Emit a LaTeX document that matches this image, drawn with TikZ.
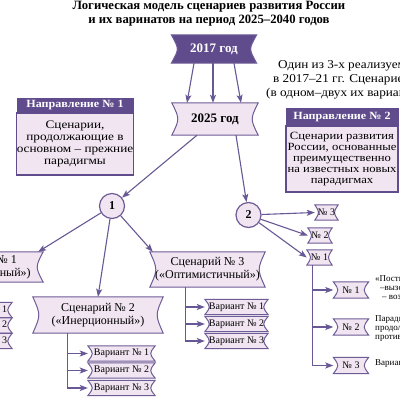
\documentclass[tikz,border=0pt]{standalone}
\usepackage{fontspec}
\setmainfont{Liberation Serif}
\newfontfamily\wf[FakeStretch=1.15]{Liberation Serif}
\newfontfamily\wg[FakeStretch=1.1]{Liberation Serif}
\usetikzlibrary{arrows.meta}
\pgfdeclarelayer{bg}\pgfsetlayers{bg,main}
\definecolor{dk}{RGB}{96,76,140}
\definecolor{lc}{RGB}{104,88,150}
\definecolor{lt}{RGB}{241,229,242}
\definecolor{bd}{RGB}{110,92,150}
\newcommand\outl[3][fill=lt,draw=bd]{\begin{pgfonlayer}{bg}\path[line width=1pt,#1] (#2.north west) -- (#2.north east) .. controls ([xshift=-#3]#2.east) .. (#2.south east) -- (#2.south west) .. controls ([xshift=#3]#2.west) .. (#2.north west) -- cycle;\end{pgfonlayer}}
\begin{document}
\begin{tikzpicture}[x=1pt,y=-1pt,
 arr/.style={draw=lc,line width=1.1pt,-{Stealth[length=8pt,width=6pt,inset=1.8pt]}},
 sc/.style={rectangle,inner sep=0pt,align=center,font=\fontsize{12}{13}\selectfont},
 var/.style={rectangle,inner sep=0pt,minimum height=15pt,align=center,font=\fontsize{10}{11}\selectfont},
 circ/.style={circle,inner sep=0pt,minimum size=25pt,fill=lt,draw=bd,line width=1.2pt,font=\bfseries\fontsize{12}{12}\selectfont},
 hdr/.style={rectangle,inner sep=0pt,fill=dk,draw=dk,line width=1pt,text=white,font=\wg\bfseries\fontsize{11}{11}\selectfont},
 bdy/.style={rectangle,inner sep=0pt,fill=lt,draw=dk,line width=1.2pt,align=center},
 txt/.style={inner sep=0pt,anchor=west,align=left,font=\wg\fontsize{12}{12}\selectfont},
 sm/.style={inner sep=0pt,anchor=west,align=left,font=\fontsize{9}{9}\selectfont},
 ttl/.style={inner sep=0pt,font=\bfseries\fontsize{12.7}{13}\selectfont}
]
\begin{pgfonlayer}{bg}\fill[white] (0,0) rectangle (400,400);\end{pgfonlayer}
\useasboundingbox (0,0) rectangle (400,400);
\clip (0,0) rectangle (400,400);
% title
\node[ttl] (t1) at (209,7) {Логическая модель сценариев развития России};
\node[ttl] (t2) at (209,21) {и их варинатов на период 2025–2040 годов};
% years
\node[sc,minimum width=85pt,minimum height=28pt,text=white,font=\bfseries\fontsize{13}{13}\selectfont] (y17) at (214,49) {2017 год};
\outl[fill=dk,draw=bd]{y17}{8pt}
\node[sc,minimum width=86pt,minimum height=32pt,font=\bfseries\fontsize{13}{13}\selectfont] (y25) at (215,119) {2025 год};
\outl{y25}{8pt}
% directions
\node[bdy,minimum width=116pt,minimum height=62pt,font=\wf\fontsize{11.5}{12}\selectfont] (d1b) at (75,144) {Сценарии,\\продолжающие в\\основном – прежние\\парадигмы};
\node[hdr,minimum width=116pt,minimum height=15pt] (d1h) at (75,105.5) {Направление № 1};
\node[bdy,minimum width=112pt,minimum height=66pt,font=\wf\fontsize{11}{10.8}\selectfont] (d2b) at (342,159) {Сценарии развития\\России, основанные\\преимущественно\\на известных новых\\парадигмах};
\node[hdr,minimum width=112pt,minimum height=18pt] (d2h) at (342,117) {Направление № 2};
% top right note
\node[txt] (n1) at (278,66) {Один из 3-х реализуемых};
\node[txt] (n2) at (273,80) {в 2017–21 гг. Сценариев};
\node[txt] (n3) at (266,94) {(в одном–двух их вариантах)};
% circles
\node[circ] (c1) at (112,206) {1};
\node[circ] (c2) at (248.5,215) {2};
% scenarios
\node[sc,minimum width=126pt,minimum height=30pt] (s1) at (-20,267) {Сценарий № 1\\(«Стагнационный»)};
\outl{s1}{8pt}
\node[sc,minimum width=130pt,minimum height=36pt] (s2) at (98,315) {Сценарий № 2\\(«Инерционный»)};
\outl{s2}{8pt}
\node[sc,minimum width=115pt,minimum height=35pt] (s3) at (207.5,269.5) {Сценарий № 3\\(«Оптимистичный»)};
\outl{s3}{8pt}
% variants
\foreach \i/\y in {1/310,2/325.5,3/341}{
 \node[var,minimum width=65pt] (v1\i) at (-20.5,\y) {Вариант № \i};
 \outl{v1\i}{6pt}}
\foreach \i/\y in {1/307,2/324,3/341}{
 \node[var,minimum width=63pt] (v3\i) at (236.5,\y) {Вариант № \i};
 \outl{v3\i}{6pt}}
\foreach \i/\y in {1/353.5,2/370.5,3/388}{
 \node[var,minimum width=67pt] (v2\i) at (121.5,\y) {Вариант № \i};
 \outl{v2\i}{6pt}}
% right numbers
\node[var,minimum width=23pt] (r3) at (326.5,212.5) {№ 3};
\outl{r3}{5pt}
\node[var,minimum width=24pt] (r2) at (320,235.5) {№ 2};
\outl{r2}{5pt}
\node[var,minimum width=25pt] (r1) at (319.5,257.5) {№ 1};
\outl{r1}{5pt}
\foreach \i/\y in {1/290,2/327,3/365.5}{
 \node[var,minimum width=35pt,minimum height=16pt] (q\i) at (351,\y) {№ \i};
 \outl{q\i}{6pt}}
% small texts
\node[sm] (a1) at (375,279) {«Постиндустриальный прорыв»};
\node[sm] (a2) at (380,288) {–вызовы};
\node[sm] (a3) at (382,297) {– возможности};
\node[sm] (b1) at (375,320) {Парадигма};
\node[sm] (b2) at (375,329) {продолжения};
\node[sm] (b3) at (375,338) {противостояния};
\node[sm] (e1) at (375,364) {Вариант};
% connectors
\draw[arr] ([xshift=-20pt]y17.south) -- ([xshift=-28pt]y25.north);
\draw[arr] ([xshift=-1pt]y17.south) -- ([xshift=-2pt]y25.north);
\draw[arr] ([xshift=20pt]y17.south) -- ([xshift=26pt]y25.north);
\draw[arr] ([xshift=-18pt]y25.south) -- (c1);
\draw[arr] ([xshift=21pt]y25.south) -- (c2);
\draw[arr] (c1) -- ([xshift=-5pt]s1.north east);
\draw[arr] (c1) -- (s2.north);
\draw[arr] (c1) -- ([xshift=3pt]s3.north west);
\draw[arr] (c2) -- (r3.west);
\draw[arr] (c2) -- (r2.west);
\draw[arr] (c2) -- (r1.west);
\foreach \i in {1,2,3}{
 \draw[arr] ([xshift=36pt]s3.south west) |- (v3\i);
 \draw[arr] ([xshift=35pt]s2.south west) |- (v2\i);
 \draw[arr] ([xshift=6pt]r1.south west) |- (q\i);}
\end{tikzpicture}
\end{document}
